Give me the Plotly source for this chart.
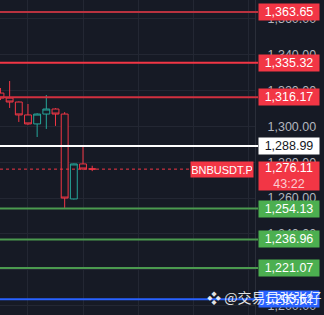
import plotly.graph_objects as go

# ---- data ----
candle_idx = [0, 1, 2, 3, 4, 5, 6, 7, 8, 9, 10]
opens  = [1318.5, 1315.7, 1313.5, 1306.3, 1301.3, 1306.8, 1309.6, 1306.8, 1259.5, 1279.0, 1276.3]
highs  = [1321.3, 1325.2, 1313.8, 1312.4, 1307.2, 1317.4, 1310.1, 1307.9, 1279.2, 1289.0, 1278.0]
lows   = [1314.6, 1310.2, 1302.4, 1300.8, 1294.0, 1298.5, 1300.2, 1254.5, 1259.2, 1275.8, 1275.0]
closes = [1315.7, 1313.5, 1306.3, 1301.3, 1306.8, 1309.6, 1306.8, 1260.0, 1279.0, 1276.2, 1276.11]

resistance_levels = [1363.65, 1335.32, 1316.17]
support_levels = [1254.13, 1236.96, 1221.07]
pivot_level = 1288.99
last_price = 1276.11
countdown = "43:22"
symbol = "BNBUSDT.P"
blue_level = 1203.62
grid_prices = [1200, 1220, 1240, 1260, 1280, 1300, 1320, 1340, 1360]
vgrid_idx = [3, 9, 15, 21, 27]
watermark = "❖ @交易员张张仔"

BG = "#161a25"
RED = "#f23645"
GREEN = "#4caf50"
BLUE = "#2962ff"
FONT = "Liberation Sans"

fig = go.Figure()
fig.add_trace(go.Candlestick(
    x=candle_idx, open=opens, high=highs, low=lows, close=closes,
    increasing=dict(line=dict(color="#26a69a", width=1), fillcolor=BG),
    decreasing=dict(line=dict(color=RED, width=1), fillcolor=BG),
    whiskerwidth=0, showlegend=False, hoverinfo="skip",
))

shapes = []
annotations = []

def level_line(y, color, width, dash="solid"):
    shapes.append(dict(type="line", xref="paper", yref="y", x0=0, x1=1.012,
                       y0=y, y1=y, line=dict(color=color, width=width, dash=dash),
                       layer="above"))

def label(y, text, bg, fc="white"):
    annotations.append(dict(xref="paper", yref="y", x=1, y=y, xanchor="left",
                            yanchor="middle", xshift=3, text=text, showarrow=False,
                            bgcolor=bg, width=58, height=14, borderpad=1,
                            align="center", font=dict(family=FONT, size=12.5, color=fc)))

res_colors = ["#b8323f", RED, "#d2303f"]
for lv, c in zip(resistance_levels, res_colors):
    level_line(lv, c, 2)
    label(lv, f"{lv:,.2f}", RED)

for lv in support_levels:
    level_line(lv, "#4b9a4f", 2)
    label(lv, f"{lv:,.2f}", GREEN)

level_line(pivot_level, "#ffffff", 2)
label(pivot_level, f"{pivot_level:,.2f}", "#ffffff", fc="#131722")

level_line(blue_level, BLUE, 2)
label(blue_level, f"{blue_level:,.2f}", BLUE)

# last price dotted line + labels
shapes.append(dict(type="line", xref="paper", yref="y", x0=0, x1=0.75,
                   y0=last_price, y1=last_price,
                   line=dict(color=RED, width=1, dash="dot"), layer="above"))
annotations.append(dict(xref="paper", yref="y", x=1, y=last_price, xanchor="left",
                        yanchor="top", xshift=3, yshift=8,
                        text=f"{last_price:,.2f}<br><span style='color:rgba(255,255,255,0.75)'>{countdown}</span>",
                        showarrow=False, bgcolor=RED, width=58, height=26, borderpad=1,
                        align="center", font=dict(family=FONT, size=12.5, color="white")))
annotations.append(dict(xref="paper", yref="y", x=1, y=last_price, xanchor="right",
                        yanchor="top", xshift=-1, yshift=8, text=symbol, showarrow=False,
                        bgcolor=RED, width=60, height=13, borderpad=1,
                        font=dict(family=FONT, size=11, color="white")))

annotations.append(dict(xref="paper", yref="paper", x=1.265, y=0.057, xanchor="right",
                        yanchor="middle", text=watermark, showarrow=False,
                        font=dict(family="Noto Sans CJK SC", size=14,
                                  color="rgba(255,255,255,0.88)")))

fig.update_layout(
    width=324, height=315,
    margin=dict(l=0, r=69, t=0, b=0),
    paper_bgcolor=BG, plot_bgcolor=BG,
    shapes=shapes, annotations=annotations,
    boxgap=0.25, boxgroupgap=0,
    xaxis=dict(range=[-0.05, 27.75], showticklabels=False, tickvals=vgrid_idx,
               showgrid=True, gridcolor="#232733", gridwidth=1, zeroline=False,
               rangeslider=dict(visible=False), fixedrange=True),
    yaxis=dict(range=[1194.85, 1370.34], side="right", tickvals=grid_prices,
               ticktext=[f"{v:,.2f}" for v in grid_prices],
               showgrid=True, gridcolor="#232733", gridwidth=1, zeroline=False,
               showline=True, linecolor="#2a2e39", linewidth=1,
               ticks="", ticklabelstandoff=9,
               tickfont=dict(family=FONT, size=12.5, color="#b2b5be"), fixedrange=True),
)

fig.write_html("out.html")
